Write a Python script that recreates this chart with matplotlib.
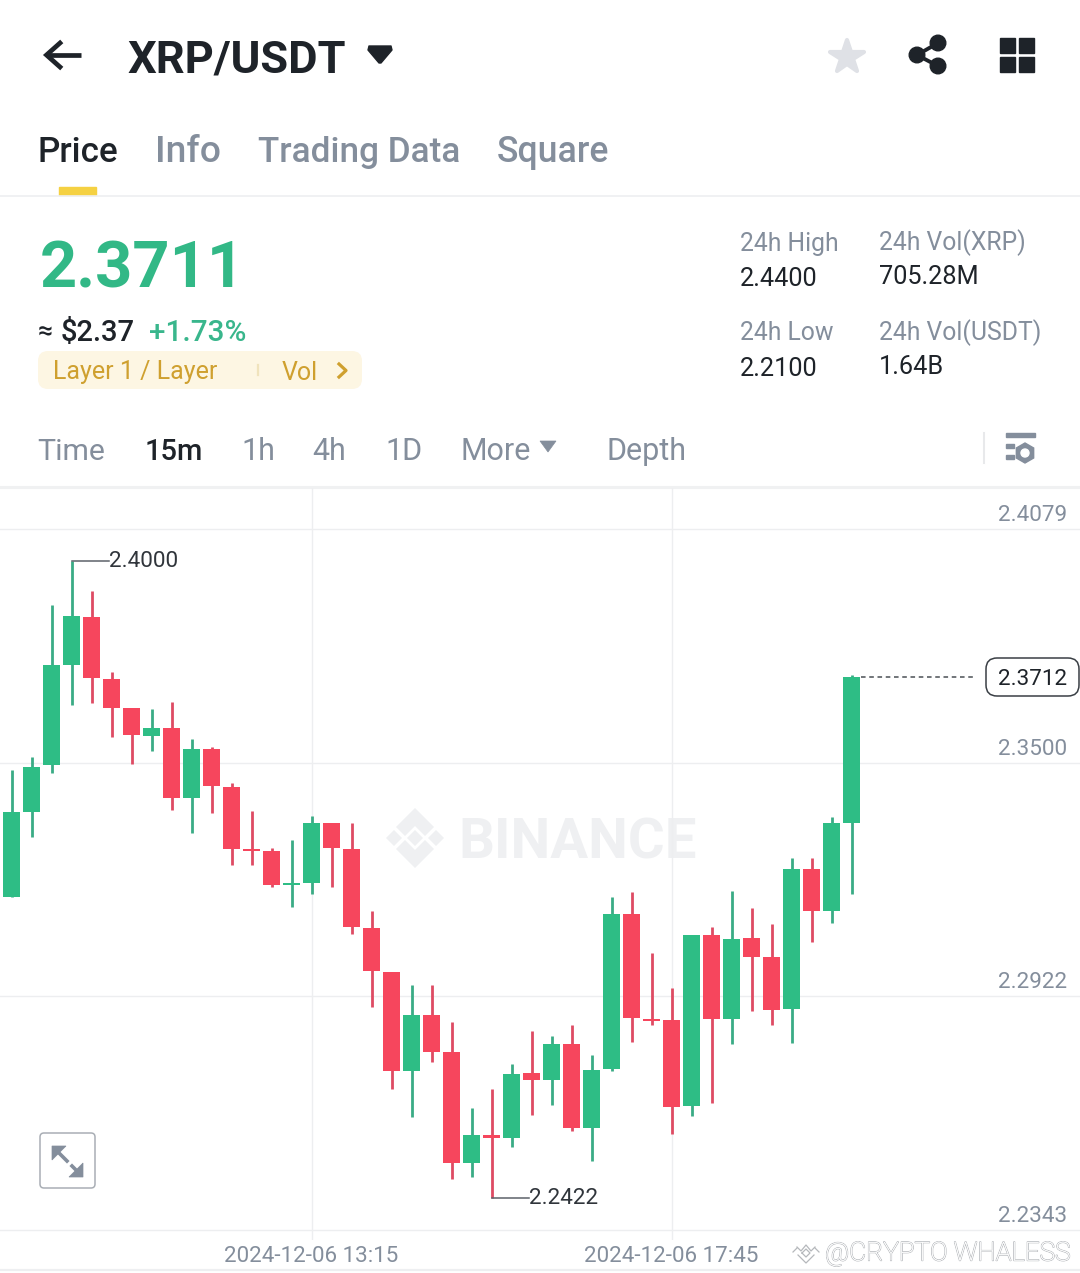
import matplotlib
matplotlib.use("Agg")
import matplotlib.pyplot as plt
import matplotlib.patheffects as pe
from matplotlib.markers import MarkerStyle
from matplotlib.transforms import ScaledTranslation
from matplotlib.patches import FancyBboxPatch, Polygon, Rectangle, Circle, RegularPolygon

# ---- data (15m candles, XRP/USDT) ----
opens  = [2.3061,2.3169,2.3379,2.3495,2.3743,2.3862,2.3708,2.3636,2.3568,2.3587,2.3413,2.3535,2.3441,2.3288,2.3282,2.3198,2.3203,2.3351,2.3288,2.3092,2.2983,2.2737,2.2876,2.2784,2.2510,2.2578,2.2572,2.2732,2.2715,2.2805,2.2596,2.2743,2.3126,2.2866,2.2863,2.2650,2.3074,2.2866,2.3066,2.3020,2.2891,2.3237,2.3133,2.3351]
closes = [2.3168,2.3379,2.3491,2.3743,2.3864,2.3711,2.3636,2.3569,2.3587,2.3413,2.3535,2.3443,2.3288,2.3283,2.3198,2.3203,2.3351,2.3289,2.3094,2.2985,2.2737,2.2876,2.2784,2.2510,2.2578,2.2572,2.2729,2.2715,2.2805,2.2596,2.2740,2.3126,2.2868,2.2861,2.2648,2.3074,2.2866,2.3064,2.3020,2.2888,2.3237,2.3133,2.3351,2.3712]
highs  = [2.3168,2.3483,2.3515,2.3891,2.4000,2.3927,2.3725,2.3636,2.3635,2.3651,2.3560,2.3540,2.3450,2.3382,2.3289,2.3309,2.3369,2.3351,2.3352,2.3133,2.2983,2.2950,2.2950,2.2858,2.2646,2.2693,2.2755,2.2836,2.2824,2.2851,2.2777,2.3169,2.3180,2.3029,2.2943,2.3074,2.3094,2.3183,2.3141,2.3101,2.3265,2.3265,2.3367,2.3718]
lows   = [2.3061,2.3169,2.3317,2.3475,2.3644,2.3649,2.3564,2.3498,2.3530,2.3384,2.3327,2.3377,2.3247,2.3248,2.3194,2.3143,2.3175,2.3193,2.3076,2.2896,2.2692,2.2624,2.2759,2.2470,2.2474,2.2422,2.2549,2.2628,2.2653,2.2588,2.2515,2.2737,2.2809,2.2851,2.2581,2.2625,2.2658,2.2804,2.2886,2.2851,2.2807,2.3057,2.3104,2.3175]
price_ticks = [2.2343, 2.2922, 2.3500, 2.4079]
price_labels = ["2.2343", "2.2922", "2.3500", "2.4079"]
time_ticks = [16, 34]
time_labels = ["2024-12-06 13:15", "2024-12-06 17:45"]
high_index, high_value = 4, 2.4000
low_index, low_value = 25, 2.2422
last_index, last_value = 43, 2.3712

GREEN, RED = "#2EBD85", "#F6465D"
WICK_G, WICK_R = "#3AAB85", "#DE4B63"
DARK, GRAY = "#1E2329", "#848E9C"
FONT = "Roboto"
plt.rcParams["font.family"] = [FONT, "DejaVu Sans"]

W, H = 1080, 1273
fig = plt.figure(figsize=(W/100, H/100), dpi=100, facecolor="white")

# pixel-coordinate layer for the app interface
ui = fig.add_axes([0, 0, 1, 1], zorder=1)
ui.set_xlim(0, W); ui.set_ylim(H, 0); ui.axis("off")

def t(x, y, s, size, color=DARK, weight="normal", ha="left", **kw):
    return ui.text(x, y, s, fontsize=size, color=color, fontweight=weight, ha=ha, va="center_baseline", **kw)

# header
ui.plot([48, 81], [55, 55], color=DARK, lw=3.4, solid_capstyle="butt")
ui.plot([60, 46.5, 60], [43, 55, 67], color=DARK, lw=3.4, solid_joinstyle="miter")
t(127, 56, "XRP/USDT", 32.6, weight="bold")
ui.add_patch(Polygon([[369, 46], [391, 46], [392, 50], [381, 63], [379, 63], [368, 50]], closed=True, fc=DARK, ec=DARK, lw=1, joinstyle="round"))
ui.plot([847], [56.5], marker=MarkerStyle("*", joinstyle="round"), ms=25, color="#DFE1E6", mec="#DFE1E6", mew=3, ls="none")
ui.plot([938, 917, 938], [43, 55, 66], color=DARK, lw=2.8)
for cx, cy in [(938, 43), (917, 55), (938, 66)]:
    ui.add_patch(Circle((cx, cy), 7.8, color=DARK))
for sx, sy in [(1000, 38), (1019, 38), (1000, 57), (1019, 57)]:
    ui.add_patch(Rectangle((sx, sy), 15, 15, color=DARK))

# tabs
t(38, 149, "Price", 25.2, weight="medium")
t(155, 149, "Info", 26.8, GRAY, "medium")
t(258.5, 149, "Trading Data", 25.3, GRAY, "medium")
t(497, 149, "Square", 25.7, GRAY, "medium")
ui.add_patch(Rectangle((59, 187), 37, 8, color="#F5D142"))
ui.plot([0, W], [195.5, 195.5], color="#EEEFF1", lw=1.2)

# price block
t(40, 263, "2.3711", 46.8, "#32B886", "bold")
t(38, 330, "≈", 19, weight="medium")
t(61, 330, "$2.37", 21, weight="medium")
t(149, 330, "+1.73%", 21.3, "#39B68C", "medium")
ui.add_patch(FancyBboxPatch((46, 359), 308, 22, boxstyle="round,pad=8,rounding_size=10", fc="#FDF6E3", ec="none"))
GOLD = "#CFA02F"
t(53, 370, "Layer 1 / Layer", 18, GOLD)
ui.plot([257.5, 257.5], [365, 375], color="#F0E3BC", lw=1.6)
t(282, 370, "Vol", 18, GOLD)
ui.plot([339, 346, 339], [364, 370.5, 377], color=GOLD, lw=2.3)

for x, y, s, c, fs in [(740, 241, "24h High", GRAY, 17.8), (879, 240, "24h Vol(XRP)", GRAY, 17.8),
                       (740, 276, "2.4400", DARK, 18.2), (879, 275, "705.28M", DARK, 18.2),
                       (740, 331, "24h Low", GRAY, 17.8), (879, 330, "24h Vol(USDT)", GRAY, 17.8),
                       (740, 366, "2.2100", DARK, 18.2), (879, 365, "1.64B", DARK, 18.2)]:
    t(x, y, s, fs, c)

# interval row
t(37.5, 449, "Time", 21.8, GRAY)
t(145, 449, "15m", 21, DARK, "medium")
t(241, 449, "1h", 22, GRAY)
t(312.5, 449, "4h", 22, GRAY)
t(385.5, 449, "1D", 22, GRAY)
t(460.5, 449, "More", 22, GRAY)
ui.add_patch(Polygon([[540, 441], [556, 441], [548, 452]], closed=True, fc=GRAY, ec=GRAY, lw=0.5))
t(606.5, 449, "Depth", 22, GRAY)
ui.plot([983.5, 983.5], [433, 463], color="#E8E9EB", lw=1.5)
ui.add_patch(Rectangle((1006, 433), 29, 4, color=GRAY))
ui.add_patch(Rectangle((1006, 444), 8, 4, color=GRAY))
ui.add_patch(Rectangle((1006, 455), 8, 4, color=GRAY))
ui.add_patch(RegularPolygon((1025, 453), 6, radius=10, color=GRAY))
ui.add_patch(Circle((1025, 453), 4, color="white"))
ui.plot([0, W], [487, 487], color="#F0F1F2", lw=2.2)
ui.plot([0, W], [1270, 1270], color="#EEEFF1", lw=1.6)

# faint BINANCE watermark, underneath the chart
WM = "#EFF0F2"
for pts in ([[415, 808], [434, 827], [425, 836], [415, 826], [405, 836], [396, 827]],
            [[415, 868], [434, 849], [425, 840], [415, 850], [405, 840], [396, 849]],
            [[415, 830], [423, 838], [415, 846], [407, 838]],
            [[394, 830], [402, 838], [394, 846], [386, 838]],
            [[436, 830], [444, 838], [436, 846], [428, 838]]):
    ui.add_patch(Polygon(pts, closed=True, fc=WM, ec="none"))
t(458, 838, "BINANCE", 40.5, WM, "bold")

# last-price pill outline, under the chart text
ui.add_patch(FancyBboxPatch((996, 668), 73, 18, boxstyle="round,pad=10,rounding_size=11", fc="white", ec="#3A3F45", lw=1.1))

# candlestick chart
top_px, bottom_px = 488, 1240
ax = fig.add_axes([0, 1 - bottom_px/H, 1, (bottom_px - top_px)/H], zorder=2)
ax.patch.set_alpha(0)
ax.set_xlim(0.425, 54.425)
ax.set_ylim(2.35 - (bottom_px - 763)/4036, 2.35 + (763 - top_px)/4036)
for s in ax.spines.values():
    s.set_visible(False)
ax.set_axisbelow(True)
ax.grid(True, color="#EDEEF0", lw=1.0)
ax.set_xticks(time_ticks, time_labels)
ax.tick_params(axis="x", length=0, labelsize=16.1, labelcolor=GRAY, pad=4)
ax.yaxis.tick_right()
ax.set_yticks(price_ticks, price_labels)
ax.tick_params(axis="y", length=0, labelsize=16.2, labelcolor=GRAY, pad=-9.4)
shift_up = ScaledTranslation(0, 3/100, fig.dpi_scale_trans)
for lab in ax.get_yticklabels():
    lab.set_ha("right"); lab.set_va("bottom")
    lab.set_transform(lab.get_transform() + shift_up)

xs = list(range(len(opens)))
cols = [GREEN if c >= o else RED for o, c in zip(opens, closes)]
wcols = [WICK_G if c >= o else WICK_R for o, c in zip(opens, closes)]
ax.vlines(xs, lows, highs, colors=wcols, lw=2.0, zorder=3)
ax.bar(xs, [abs(c - o) for o, c in zip(opens, closes)], bottom=[min(o, c) for o, c in zip(opens, closes)],
       width=0.86, color=cols, lw=0, zorder=4)

# high / low callouts
LINE = "#5C6269"
for idx, val in [(high_index, high_value), (low_index, low_value)]:
    ax.plot([idx, idx + 1.85], [val, val], color=LINE, lw=1.1, zorder=5)
    ax.annotate(f"{val:.4f}", xy=(idx + 1.85, val), xytext=(0, 1.5), textcoords="offset points",
                fontsize=16.2, color="#30353B", va="center_baseline", ha="left")

# last-price line and label
ax.plot([last_index + 0.45, last_index + 6.2], [last_value, last_value], color="#4A4F55", lw=1.1, ls=(0, (3, 2.4)), zorder=5)
ax.annotate(f"{last_value:.4f}", xy=(last_index + 9.03, last_value), xytext=(0, 0), textcoords="offset points",
            fontsize=16.2, color=DARK, ha="center", va="center_baseline", zorder=6)

# overlays above the chart
ov = fig.add_axes([0, 0, 1, 1], zorder=3)
ov.set_xlim(0, W); ov.set_ylim(H, 0); ov.axis("off")
ov.add_patch(FancyBboxPatch((43, 1136), 49, 49, boxstyle="round,pad=3,rounding_size=4", fc="white", ec="#A9AEB5", lw=1.1))
IC = "#848E9C"
ov.plot([56, 67], [1150, 1161], color=IC, lw=2.6)
ov.add_patch(Polygon([[52, 1146], [66, 1146], [52, 1160]], closed=True, fc=IC, ec=IC, lw=0.5))
ov.plot([72, 79], [1166, 1173], color=IC, lw=2.6)
ov.add_patch(Polygon([[83, 1177], [69, 1177], [83, 1163]], closed=True, fc=IC, ec=IC, lw=0.5))

# author watermark
SW = "#B5B8BC"
for pts in ([[797, 1247], [801, 1251], [806, 1245], [811, 1251], [815, 1247]],
            [[793, 1252], [797, 1248]], [[819, 1252], [815, 1248]],
            [[798, 1255], [806, 1263], [814, 1255]], [[802, 1253], [806, 1249], [810, 1253], [806, 1257], [802, 1253]]):
    ov.plot(*zip(*pts), color=SW, lw=0.9)
ov.text(825, 1251, "@CRYPTO WHALESS", fontsize=18.8, color="white", va="center_baseline", ha="left", fontweight="light",
        path_effects=[pe.withStroke(linewidth=1.0, foreground=SW), pe.Normal()])

fig.savefig("out.png", dpi=100, facecolor="white")
